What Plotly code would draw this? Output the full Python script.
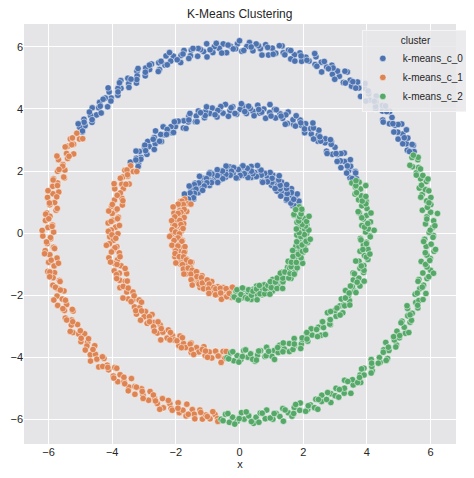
import numpy as np
import plotly.graph_objects as go

# points as (angle in degrees, distance from origin)
c0_outer = [(25.6,6.08),(26.9,5.91),(27.4,6.15),(28.8,5.98),(30.1,6.11),(31.3,5.83),(31.9,6.04),(33.2,5.94),(34.6,6.19),(35.4,6.00),(36.8,5.88),(37.9,6.07),(39.0,5.79),(39.7,6.13),(41.2,5.97),(42.5,6.09),(43.1,5.86),(44.6,6.02),(45.8,6.16),(46.4,5.92),(47.9,6.05),(49.2,5.82),(50.0,6.10),(51.3,5.99),(52.7,6.12),(53.4,5.90),(54.8,6.03),(56.1,5.85),(56.9,6.20),(58.2,5.95),(59.5,6.06),(60.3,5.89),(61.8,6.14),(62.9,6.01),(63.6,5.80),(65.0,6.08),(66.4,5.93),(67.1,6.17),(68.5,5.96),(69.8,6.04),(70.6,5.87),(71.9,6.11),(73.3,6.00),(74.0,5.84),(75.4,6.09),(76.7,5.97),(77.5,6.18),(78.9,5.91),(80.2,6.05),(81.0,5.81),(82.3,6.13),(83.7,5.98),(84.4,6.07),(85.9,5.89),(87.1,6.15),(87.8,6.02),(89.3,5.86),(90.6,6.10),(91.2,5.94),(92.7,6.03),(94.0,5.83),(94.8,6.12),(96.1,5.99),(97.5,6.06),(98.2,5.88),(99.6,6.19),(100.9,5.96),(101.7,6.04),(103.0,5.85),(104.4,6.09),(105.1,5.92),(106.5,6.14),(107.8,6.01),(108.6,5.80),(110.0,6.07),(111.3,5.95),(112.0,6.16),(113.4,5.90),(114.8,6.05),(115.5,5.84),(116.9,6.11),(118.2,5.98),(119.0,6.08),(120.3,5.87),(121.7,6.13),(122.4,6.00),(123.8,5.82),(125.1,6.10),(125.9,5.94),(127.2,6.17),(128.6,5.97),(129.3,6.03),(130.7,5.86),(132.0,6.12),(132.8,5.93),(134.1,6.06),(135.5,5.81),(136.2,6.09),(137.6,5.99),(138.9,6.14),(139.7,5.89),(141.0,6.02),(142.4,5.85),(143.1,6.11),(144.5,5.96),(145.8,6.07),(146.6,5.92),
            (26.2,5.95),(27.8,6.13),(29.3,5.88),(30.7,6.02),(32.4,6.21),(33.9,5.84),(35.1,6.09),(36.2,5.97),(38.4,5.76),(40.3,6.06),(41.8,6.15),(43.7,5.91),(45.1,6.00),(47.0,5.82),(48.6,6.11),(50.7,6.23),(52.0,5.93),(53.9,6.04),(55.5,5.87),(57.6,6.18),(58.9,5.79),(61.1,6.08),(62.2,5.99),(64.3,6.14),(65.7,5.90),(67.8,6.25),(69.2,5.96),(71.3,6.03),(72.6,5.81),(74.7,6.10),(76.1,5.92),(78.3,6.17),(79.6,5.86),(81.6,6.05),(83.0,5.78),(85.1,6.12),(86.5,6.01),(88.7,5.89),(90.0,6.20),(91.9,5.94),(93.4,6.07),(95.5,5.83),(96.8,6.16),(98.9,5.98),(100.2,5.77),(102.3,6.09),(103.8,6.13),(105.8,5.85),(107.1,6.04),(109.3,5.92),(110.7,6.22),(112.7,5.88),(114.0,6.06),(116.1,5.80),(117.6,6.11),(119.7,5.97),(121.0,6.19),(123.1,5.91),(124.5,6.02),(126.5,5.84),(127.9,6.14),(130.0,5.94),(131.4,6.24),(133.5,5.87),(134.8,6.08),(136.9,5.99),(138.3,5.82),(140.4,6.12),(141.7,5.90),(143.8,6.05),(145.2,6.17),(146.3,5.93)]
c0_middle = [(25.5,4.07),(27.2,3.90),(28.6,4.14),(30.4,3.97),(31.7,4.10),(33.5,3.82),(34.9,4.03),(36.3,3.93),(38.1,4.18),(39.4,3.99),(41.0,3.87),(42.7,4.08),(44.0,3.80),(45.6,4.12),(47.3,3.96),(48.5,4.06),(50.2,3.85),(51.9,4.01),(53.1,4.15),(54.8,3.91),(56.4,4.04),(57.7,3.83),(59.5,4.09),(60.8,3.98),(62.4,4.11),(64.1,3.89),(65.3,4.02),(67.0,3.84),(68.6,4.19),(69.9,3.94),(71.7,4.05),(73.0,3.88),(74.6,4.13),(76.3,4.00),(77.5,3.79),(79.2,4.07),(80.8,3.92),(82.1,4.16),(83.9,3.95),(85.2,4.03),(86.8,3.86),(88.5,4.10),(89.7,3.99),(91.4,3.83),(93.0,4.08),(94.3,3.96),(96.1,4.17),(97.6,3.90),(98.9,4.04),(100.7,3.81),(102.0,4.12),(103.6,3.97),(105.3,4.06),(106.5,3.88),(108.2,4.14),(109.8,4.01),(111.1,3.85),(112.9,4.09),(114.2,3.93),(115.8,4.02),(117.5,3.82),(118.7,4.11),(120.4,3.98),(122.1,4.05),(123.3,3.87),(125.0,4.18),(126.6,3.95),(127.9,4.03),(129.7,3.84),(131.0,4.08),(132.6,3.91),(134.3,4.13),(135.5,3.98),(137.2,4.06),(138.9,3.86),(140.1,4.10),(141.8,3.94),(143.4,4.04),(144.7,3.89),(146.3,4.12),
             (26.4,3.95),(28.0,4.13),(29.9,3.88),(32.6,4.02),(34.2,4.21),(37.0,3.84),(38.8,4.09),(40.2,3.97),(43.0,3.76),(44.8,4.06),(46.5,4.15),(49.3,3.91),(50.9,4.00),(52.5,3.82),(55.6,4.11),(57.0,4.23),(58.7,3.93),(61.6,4.04),(63.0,3.87),(64.8,4.18),(67.7,3.79),(69.1,4.08),(70.9,3.99),(73.8,4.14),(75.3,3.90),(77.0,4.25),(79.9,3.96),(81.4,4.03),(83.1,3.81),(86.0,4.10),(87.6,3.92),(89.2,4.17),(92.1,3.86),(93.7,4.05),(95.3,3.78),(98.2,4.12),(99.8,4.01),(101.4,3.89),(104.3,4.20),(105.9,3.94),(107.5,4.07),(110.4,3.83),(112.0,4.16),(113.6,3.98),(116.5,3.77),(118.1,4.09),(119.7,4.13),(122.6,3.85),(124.2,4.04),(125.8,3.92),(128.7,4.22),(130.3,3.88),(131.9,4.06),(134.8,3.80),(136.4,4.11),(138.0,3.97),(140.9,4.19),(142.5,3.91),(144.1,4.02),(146.0,3.84)]
c0_inner = [(25.8,2.06),(27.9,1.89),(29.6,2.13),(31.8,1.96),(33.5,2.09),(35.7,1.81),(37.4,2.02),(39.6,1.92),(41.3,2.17),(43.5,1.98),(45.2,1.86),(47.4,2.07),(49.1,1.79),(51.3,2.11),(53.0,1.95),(55.2,2.05),(56.9,1.84),(59.1,2.00),(60.8,2.14),(63.0,1.90),(64.7,2.03),(66.9,1.82),(68.6,2.08),(70.8,1.97),(72.5,2.10),(74.7,1.88),(76.4,2.01),(78.6,1.83),(80.3,2.18),(82.5,1.93),(84.2,2.04),(86.4,1.87),(88.1,2.12),(90.3,1.99),(92.0,1.78),(94.2,2.06),(95.9,1.91),(98.1,2.15),(99.8,1.94),(102.0,2.02),(103.7,1.85),(105.9,2.09),(107.6,1.98),(109.8,1.82),(111.5,2.07),(113.7,1.95),(115.4,2.16),(117.6,1.89),(119.3,2.03),(121.5,1.80),(123.2,2.11),(125.4,1.96),(127.1,2.05),(129.3,1.87),(131.0,2.13),(133.2,2.00),(134.9,1.84),(137.1,2.08),(138.8,1.92),(141.0,2.01),(142.7,1.81),(144.9,2.10),(146.4,1.97),
            (26.7,1.95),(28.8,2.13),(30.9,1.88),(32.6,2.02),(34.8,2.21),(36.5,1.84),(38.7,2.09),(40.4,1.97),(42.6,1.76),(44.3,2.06),(46.5,2.15),(48.2,1.91),(50.4,2.00),(52.1,1.82),(54.3,2.11),(56.0,2.23),(58.2,1.93),(59.9,2.04),(62.1,1.87),(63.8,2.18),(66.0,1.79),(67.7,2.08),(69.9,1.99),(71.6,2.14),(73.8,1.90),(75.5,2.25),(77.7,1.96),(79.4,2.03),(81.6,1.81),(83.3,2.10),(85.5,1.92),(87.2,2.17),(89.4,1.86),(91.1,2.05),(93.3,1.78),(95.0,2.12),(97.2,2.01),(98.9,1.89),(101.1,2.20),(102.8,1.94),(105.0,2.07),(106.7,1.83),(108.9,2.16),(110.6,1.98),(112.8,1.77),(114.5,2.09),(116.7,2.13),(118.4,1.85),(120.6,2.04),(122.3,1.92),(124.5,2.22),(126.2,1.88),(128.4,2.06),(130.1,1.80),(132.3,2.11),(134.0,1.97),(136.2,2.19),(137.9,1.91),(140.1,2.02),(141.8,1.84),(144.0,2.14),(145.7,1.94)]

c1_outer = [(147.8,6.04),(148.9,5.87),(150.3,6.12),(151.2,5.95),(152.6,6.08),(153.9,5.80),(154.7,6.01),(156.0,5.91),(157.4,6.16),(158.3,5.97),(159.7,5.85),(160.8,6.05),(162.1,5.78),(163.3,6.10),(164.2,5.94),(165.6,6.06),(166.9,5.83),(167.8,6.00),(169.2,6.14),(170.4,5.89),(171.3,6.03),(172.7,5.81),(173.9,6.09),(174.8,5.98),(176.2,6.11),(177.5,5.88),(178.3,6.02),(179.7,5.84),(180.9,6.18),(181.8,5.93),(183.2,6.05),(184.5,5.86),(185.3,6.13),(186.7,6.00),(188.0,5.79),(188.9,6.07),(190.3,5.92),(191.6,6.15),(192.4,5.95),(193.8,6.03),(195.1,5.86),(196.0,6.10),(197.4,5.99),(198.7,5.82),(199.5,6.08),(200.9,5.96),(202.2,6.17),(203.0,5.90),(204.4,6.04),(205.7,5.80),(206.6,6.12),(208.0,5.97),(209.3,6.06),(210.1,5.88),(211.5,6.14),(212.8,6.01),(213.7,5.85),(215.1,6.09),(216.4,5.93),(217.2,6.02),(218.6,5.82),(219.9,6.11),(220.8,5.98),(222.2,6.05),(223.5,5.87),(224.3,6.18),(225.7,5.95),(227.0,6.03),(227.9,5.84),(229.3,6.08),(230.6,5.91),(231.4,6.13),(232.8,6.00),(234.1,5.79),(235.0,6.06),(236.4,5.94),(237.7,6.15),(238.5,5.89),(239.9,6.04),(241.2,5.83),(242.1,6.10),(243.5,5.97),(244.8,6.07),(245.6,5.86),(247.0,6.12),(248.3,5.92),(249.2,6.05),(250.6,5.80),(251.9,6.09),(252.7,5.98),(254.1,6.13),(255.4,5.88),(256.3,6.01),(257.7,5.84),(259.0,6.11),(259.8,5.96),(261.2,6.06),(262.5,5.90),(263.4,6.02),
            (148.3,5.79),(149.7,6.08),(151.6,5.99),(153.1,6.14),(155.2,5.90),(156.6,6.25),(158.8,5.96),(160.1,6.03),(161.9,5.81),(163.7,6.10),(165.0,5.92),(167.2,6.17),(168.5,5.86),(170.8,6.05),(172.1,5.78),(174.3,6.12),(175.6,6.01),(177.9,5.89),(179.2,6.20),(181.4,5.94),(182.7,6.07),(184.9,5.83),(186.2,6.16),(188.4,5.98),(189.7,5.77),(191.9,6.09),(193.3,6.13),(195.5,5.85),(196.8,6.04),(198.1,5.92),(200.3,6.22),(201.6,5.88),(203.7,6.06),(205.1,5.80),(207.3,6.11),(208.6,5.97),(210.8,6.19),(212.2,5.91),(214.3,6.02),(215.7,5.84),(217.9,6.14),(219.2,5.94),(221.4,6.24),(222.8,5.87),(225.0,6.08),(226.3,5.99),(228.5,5.82),(229.8,6.12),(232.0,5.90),(233.4,6.05),(235.5,6.17),(236.9,5.93),(239.1,5.95),(240.4,6.13),(242.6,5.88),(244.0,6.02),(246.2,6.21),(247.5,5.84),(249.7,6.09),(251.1,5.97),(253.3,5.76),(254.6,6.06),(256.8,6.15),(258.1,5.91),(260.3,6.00),(261.7,5.82),(263.6,6.11)]
c1_middle = [(147.6,4.05),(149.3,3.88),(150.7,4.13),(152.4,3.96),(153.8,4.09),(155.5,3.81),(156.9,4.02),(158.6,3.92),(160.0,4.17),(161.7,3.98),(163.1,3.86),(164.8,4.07),(166.2,3.79),(167.9,4.11),(169.3,3.95),(171.0,4.05),(172.4,3.84),(174.1,4.00),(175.5,4.14),(177.2,3.90),(178.6,4.03),(180.3,3.82),(181.7,4.08),(183.4,3.97),(184.8,4.10),(186.5,3.88),(187.9,4.01),(189.6,3.83),(191.0,4.18),(192.7,3.93),(194.1,4.04),(195.8,3.87),(197.2,4.12),(198.9,3.99),(200.3,3.78),(202.0,4.06),(203.4,3.91),(205.1,4.15),(206.5,3.94),(208.2,4.02),(209.6,3.85),(211.3,4.09),(212.7,3.98),(214.4,3.82),(215.8,4.07),(217.5,3.95),(218.9,4.16),(220.6,3.89),(222.0,4.03),(223.7,3.80),(225.1,4.11),(226.8,3.96),(228.2,4.05),(229.9,3.87),(231.3,4.13),(233.0,4.00),(234.4,3.84),(236.1,4.08),(237.5,3.92),(239.2,4.01),(240.6,3.81),(242.3,4.10),(243.7,3.97),(245.4,4.06),(246.8,3.86),(248.5,4.14),(249.9,3.93),(251.6,4.04),(253.0,3.83),(254.7,4.09),(256.1,3.95),(257.8,4.12),(259.2,3.90),(260.9,4.02),(262.3,3.85),(263.5,4.07),
             (148.4,3.79),(150.1,4.08),(151.9,3.99),(154.7,4.14),(156.2,3.90),(158.0,4.25),(160.9,3.96),(162.4,4.03),(164.1,3.81),(167.0,4.10),(168.6,3.92),(170.2,4.17),(173.1,3.86),(174.7,4.05),(176.3,3.78),(179.2,4.12),(180.8,4.01),(182.5,3.89),(185.4,4.20),(186.9,3.94),(188.6,4.07),(191.5,3.83),(193.0,4.16),(194.7,3.98),(197.6,3.77),(199.1,4.09),(200.8,4.13),(203.7,3.85),(205.2,4.04),(206.9,3.92),(209.8,4.22),(211.4,3.88),(213.0,4.06),(215.9,3.80),(217.5,4.11),(219.2,3.97),(222.1,4.19),(223.6,3.91),(225.3,4.02),(228.2,3.84),(229.8,4.14),(231.4,3.94),(234.3,4.24),(235.9,3.87),(237.6,4.08),(240.5,3.99),(242.0,3.82),(243.7,4.12),(246.6,3.90),(248.1,4.05),(249.8,4.17),(252.7,3.93),(254.3,3.95),(255.9,4.13),(258.8,3.88),(260.4,4.02),(262.1,4.21),(263.7,3.84)]
c1_inner = [(147.5,2.04),(149.6,1.87),(151.2,2.12),(153.4,1.95),(155.0,2.08),(157.2,1.80),(158.8,2.01),(161.0,1.91),(162.6,2.16),(164.8,1.97),(166.4,1.85),(168.6,2.06),(170.2,1.78),(172.4,2.10),(174.0,1.94),(176.2,2.04),(177.8,1.83),(180.0,1.99),(181.6,2.13),(183.8,1.89),(185.4,2.02),(187.6,1.81),(189.2,2.07),(191.4,1.96),(193.0,2.09),(195.2,1.87),(196.8,2.00),(199.0,1.82),(200.6,2.17),(202.8,1.92),(204.4,2.03),(206.6,1.86),(208.2,2.11),(210.4,1.98),(212.0,1.77),(214.2,2.05),(215.8,1.90),(218.0,2.14),(219.6,1.93),(221.8,2.01),(223.4,1.84),(225.6,2.08),(227.2,1.97),(229.4,1.81),(231.0,2.06),(233.2,1.94),(234.8,2.15),(237.0,1.88),(238.6,2.02),(240.8,1.79),(242.4,2.10),(244.6,1.95),(246.2,2.04),(248.4,1.86),(250.0,2.12),(252.2,1.99),(253.8,1.83),(256.0,2.07),(257.6,1.91),(259.8,2.00),(261.4,1.82),(263.3,2.09),
            (148.6,1.79),(150.4,2.08),(152.5,1.99),(154.2,2.14),(156.3,1.90),(158.0,2.25),(160.1,1.96),(161.8,2.03),(163.9,1.81),(165.6,2.10),(167.7,1.92),(169.4,2.17),(171.5,1.86),(173.2,2.05),(175.3,1.78),(177.0,2.12),(179.1,2.01),(180.8,1.89),(182.9,2.20),(184.6,1.94),(186.7,2.07),(188.4,1.83),(190.5,2.16),(192.2,1.98),(194.3,1.77),(196.0,2.09),(198.1,2.13),(199.8,1.85),(201.9,2.04),(203.6,1.92),(205.7,2.22),(207.4,1.88),(209.5,2.06),(211.2,1.80),(213.3,2.11),(215.0,1.97),(217.1,2.19),(218.8,1.91),(220.9,2.02),(222.6,1.84),(224.7,2.14),(226.4,1.94),(228.5,2.24),(230.2,1.87),(232.3,2.08),(234.0,1.99),(236.1,1.82),(237.8,2.12),(239.9,1.90),(241.6,2.05),(243.7,2.17),(245.4,1.93),(247.5,1.95),(249.2,2.13),(251.3,1.88),(253.0,2.02),(255.1,2.21),(256.8,1.84),(258.9,2.09),(260.6,1.97),(262.7,1.76)]

c2_outer = [(-95.5,6.03),(-94.3,5.86),(-93.0,6.11),(-92.1,5.94),(-90.7,6.07),(-89.4,5.79),(-88.6,6.00),(-87.2,5.90),(-85.9,6.15),(-85.0,5.96),(-83.6,5.84),(-82.3,6.04),(-81.5,5.77),(-80.1,6.09),(-78.8,5.93),(-77.9,6.05),(-76.5,5.82),(-75.2,5.99),(-74.4,6.13),(-73.0,5.88),(-71.7,6.02),(-70.8,5.80),(-69.4,6.08),(-68.1,5.97),(-67.3,6.10),(-65.9,5.87),(-64.6,6.01),(-63.7,5.83),(-62.3,6.17),(-61.0,5.92),(-60.2,6.04),(-58.8,5.85),(-57.5,6.12),(-56.6,5.99),(-55.2,5.78),(-53.9,6.06),(-53.1,5.91),(-51.7,6.14),(-50.4,5.94),(-49.5,6.02),(-48.1,5.85),(-46.8,6.09),(-46.0,5.98),(-44.6,5.81),(-43.3,6.07),(-42.4,5.95),(-41.0,6.16),(-39.7,5.89),(-38.9,6.03),(-37.5,5.79),(-36.2,6.11),(-35.3,5.96),(-33.9,6.05),(-32.6,5.87),(-31.8,6.13),(-30.4,6.00),(-29.1,5.84),(-28.2,6.08),(-26.8,5.92),(-25.5,6.01),(-24.7,5.81),(-23.3,6.10),(-22.0,5.97),(-21.1,6.04),(-19.7,5.86),(-18.4,6.17),(-17.6,5.94),(-16.2,6.02),(-14.9,5.83),(-14.0,6.07),(-12.6,5.90),(-11.3,6.12),(-10.5,5.99),(-9.1,5.78),(-7.8,6.05),(-6.9,5.93),(-5.5,6.14),(-4.2,5.88),(-3.4,6.03),(-2.0,5.82),(-0.7,6.09),(0.2,5.96),(1.6,6.06),(2.9,5.85),(3.7,6.11),(5.1,5.91),(6.4,6.04),(7.3,5.79),(8.7,6.08),(10.0,5.97),(10.8,6.12),(12.2,5.87),(13.5,6.00),(14.4,5.83),(15.8,6.10),(17.1,5.95),(17.9,6.05),(19.3,5.89),(20.6,6.01),(21.5,5.84),(22.9,6.08),(24.2,5.94),
            (-94.9,6.07),(-93.6,5.83),(-91.4,6.16),(-90.1,5.98),(-87.9,5.77),(-86.5,6.09),(-84.3,6.13),(-83.0,5.85),(-80.8,6.04),(-79.4,5.92),(-77.2,6.22),(-75.9,5.88),(-73.7,6.06),(-72.3,5.80),(-70.1,6.11),(-68.8,5.97),(-66.6,6.19),(-65.2,5.91),(-63.0,6.02),(-61.7,5.84),(-59.5,6.14),(-58.1,5.94),(-55.9,6.24),(-54.6,5.87),(-52.4,6.08),(-51.0,5.99),(-48.8,5.82),(-47.5,6.12),(-45.3,5.90),(-43.9,6.05),(-41.7,6.17),(-40.4,5.93),(-38.2,5.95),(-36.8,6.13),(-34.6,5.88),(-33.3,6.02),(-31.1,6.21),(-29.7,5.84),(-27.5,6.09),(-26.2,5.97),(-24.0,5.76),(-22.6,6.06),(-20.4,6.15),(-19.1,5.91),(-16.9,6.00),(-15.5,5.82),(-13.3,6.11),(-12.0,6.23),(-9.8,5.93),(-8.4,6.04),(-6.2,5.87),(-4.9,6.18),(-2.7,5.79),(-1.3,6.08),(0.9,5.99),(2.2,6.14),(4.4,5.90),(5.8,6.25),(8.0,5.96),(9.3,6.03),(11.5,5.81),(12.9,6.10),(15.1,5.92),(16.4,6.17),(18.6,5.86),(20.0,6.05),(22.2,5.78),(23.5,6.12),(24.7,6.01)]
c2_middle = [(-95.6,4.04),(-94.1,3.87),(-92.5,4.12),(-91.1,3.95),(-89.4,4.08),(-88.0,3.80),(-86.3,4.01),(-84.9,3.91),(-83.2,4.16),(-81.8,3.97),(-80.1,3.85),(-78.7,4.06),(-77.0,3.78),(-75.6,4.10),(-73.9,3.94),(-72.5,4.04),(-70.8,3.83),(-69.4,3.99),(-67.7,4.13),(-66.3,3.89),(-64.6,4.02),(-63.2,3.81),(-61.5,4.07),(-60.1,3.96),(-58.4,4.09),(-57.0,3.87),(-55.3,4.00),(-53.9,3.82),(-52.2,4.17),(-50.8,3.92),(-49.1,4.03),(-47.7,3.86),(-46.0,4.11),(-44.6,3.98),(-42.9,3.77),(-41.5,4.05),(-39.8,3.90),(-38.4,4.14),(-36.7,3.93),(-35.3,4.01),(-33.6,3.84),(-32.2,4.08),(-30.5,3.97),(-29.1,3.81),(-27.4,4.06),(-26.0,3.94),(-24.3,4.15),(-22.9,3.88),(-21.2,4.02),(-19.8,3.79),(-18.1,4.10),(-16.7,3.95),(-15.0,4.04),(-13.6,3.86),(-11.9,4.12),(-10.5,3.99),(-8.8,3.83),(-7.4,4.07),(-5.7,3.91),(-4.3,4.00),(-2.6,3.80),(-1.2,4.09),(0.5,3.96),(1.9,4.05),(3.6,3.85),(5.0,4.13),(6.7,3.92),(8.1,4.03),(9.8,3.82),(11.2,4.08),(12.9,3.94),(14.3,4.11),(16.0,3.89),(17.4,4.01),(19.1,3.84),(20.5,4.06),(22.2,3.93),(23.6,4.10),(24.6,3.88),
             (-94.8,4.07),(-93.2,3.83),(-90.3,4.16),(-88.7,3.98),(-87.1,3.77),(-84.2,4.09),(-82.6,4.13),(-81.0,3.85),(-78.1,4.04),(-76.5,3.92),(-74.9,4.22),(-72.0,3.88),(-70.4,4.06),(-68.8,3.80),(-65.9,4.11),(-64.3,3.97),(-62.7,4.19),(-59.8,3.91),(-58.2,4.02),(-56.6,3.84),(-53.7,4.14),(-52.1,3.94),(-50.5,4.24),(-47.6,3.87),(-46.0,4.08),(-44.4,3.99),(-41.5,3.82),(-39.9,4.12),(-38.3,3.90),(-35.4,4.05),(-33.8,4.17),(-32.2,3.93),(-29.3,3.95),(-27.7,4.13),(-26.1,3.88),(-23.2,4.02),(-21.6,4.21),(-20.0,3.84),(-17.1,4.09),(-15.5,3.97),(-13.9,3.76),(-11.0,4.06),(-9.4,4.15),(-7.8,3.91),(-4.9,4.00),(-3.3,3.82),(-1.7,4.11),(1.2,4.23),(2.8,3.93),(4.4,4.04),(7.3,3.87),(8.9,4.18),(10.5,3.79),(13.4,4.08),(15.0,3.99),(16.6,4.14),(19.5,3.90),(21.1,4.25),(22.7,3.96),(24.8,4.03)]
c2_inner = [(-95.4,2.05),(-93.3,1.88),(-91.6,2.13),(-89.4,1.96),(-87.8,2.09),(-85.6,1.81),(-84.0,2.02),(-81.8,1.92),(-80.2,2.17),(-78.0,1.98),(-76.4,1.86),(-74.2,2.07),(-72.6,1.79),(-70.4,2.11),(-68.8,1.95),(-66.6,2.05),(-65.0,1.84),(-62.8,2.00),(-61.2,2.14),(-59.0,1.90),(-57.4,2.03),(-55.2,1.82),(-53.6,2.08),(-51.4,1.97),(-49.8,2.10),(-47.6,1.88),(-46.0,2.01),(-43.8,1.83),(-42.2,2.18),(-40.0,1.93),(-38.4,2.04),(-36.2,1.87),(-34.6,2.12),(-32.4,1.99),(-30.8,1.78),(-28.6,2.06),(-27.0,1.91),(-24.8,2.15),(-23.2,1.94),(-21.0,2.02),(-19.4,1.85),(-17.2,2.09),(-15.6,1.98),(-13.4,1.82),(-11.8,2.07),(-9.6,1.95),(-8.0,2.16),(-5.8,1.89),(-4.2,2.03),(-2.0,1.80),(-0.4,2.11),(1.8,1.96),(3.4,2.05),(5.6,1.87),(7.2,2.13),(9.4,2.00),(11.0,1.84),(13.2,2.08),(14.8,1.92),(17.0,2.01),(18.6,1.81),(20.8,2.10),(22.4,1.97),(24.3,2.06),
            (-94.6,2.07),(-92.5,1.83),(-90.8,2.16),(-88.7,1.98),(-87.0,1.77),(-84.9,2.09),(-83.2,2.13),(-81.1,1.85),(-79.4,2.04),(-77.3,1.92),(-75.6,2.22),(-73.5,1.88),(-71.8,2.06),(-69.7,1.80),(-68.0,2.11),(-65.9,1.97),(-64.2,2.19),(-62.1,1.91),(-60.4,2.02),(-58.3,1.84),(-56.6,2.14),(-54.5,1.94),(-52.8,2.24),(-50.7,1.87),(-49.0,2.08),(-46.9,1.99),(-45.2,1.82),(-43.1,2.12),(-41.4,1.90),(-39.3,2.05),(-37.6,2.17),(-35.5,1.93),(-33.8,1.95),(-31.7,2.13),(-30.0,1.88),(-27.9,2.02),(-26.2,2.21),(-24.1,1.84),(-22.4,2.09),(-20.3,1.97),(-18.6,1.76),(-16.5,2.06),(-14.8,2.15),(-12.7,1.91),(-11.0,2.00),(-8.9,1.82),(-7.2,2.11),(-5.1,2.23),(-3.4,1.93),(-1.3,2.04),(0.4,1.87),(2.5,2.18),(4.2,1.79),(6.3,2.08),(8.0,1.99),(10.1,2.14),(11.8,1.90),(13.9,2.25),(15.6,1.96),(17.7,2.03),(19.4,1.81),(21.5,2.10),(23.2,1.92)]

cluster_names = ["k-means_c_0", "k-means_c_1", "k-means_c_2"]
cluster_colors = ["#4C72B0", "#DD8452", "#55A868"]
cluster_points = [
    c0_outer + c0_middle + c0_inner,
    c1_outer + c1_middle + c1_inner,
    c2_outer + c2_middle + c2_inner,
]
tick_vals = [-6, -4, -2, 0, 2, 4, 6]
tick_text = ["\u22126", "\u22124", "\u22122", "0", "2", "4", "6"]


def to_xy(points):
    ang = np.radians([p[0] for p in points])
    rad = np.array([p[1] for p in points])
    return rad * np.cos(ang), rad * np.sin(ang)


fig = go.Figure()
for name, color, pts in zip(cluster_names, cluster_colors, cluster_points):
    x, y = to_xy(pts)
    fig.add_trace(go.Scatter(
        x=x, y=y, mode="markers", name=name,
        marker=dict(color=color, size=6.5, line=dict(color="white", width=0.5)),
    ))

# the page puts the figure 8px in from the top-left corner, so margins allow for that
font = "Liberation Sans, Arial, sans-serif"
fig.update_layout(
    width=474, height=478,
    margin=dict(l=16, r=26, t=16, b=42),
    paper_bgcolor="white",
    plot_bgcolor="#E5E5E8",
    font=dict(family=font, size=11, color="#262626"),
    title=dict(text="K-Means Clustering", x=0.489, xanchor="center",
               y=0.987, yanchor="middle", font=dict(size=12, color="#262626")),
    legend=dict(
        title=dict(text="cluster", side="top center", font=dict(size=10)),
        x=0.782, y=0.986, xanchor="left", yanchor="top",
        bgcolor="rgba(232,232,234,0.85)", bordercolor="#F4F4F4", borderwidth=1,
        font=dict(size=10), itemsizing="trace", tracegroupgap=0,
    ),
    showlegend=True,
)
fig.update_xaxes(
    range=[-6.77, 6.8], tickvals=tick_vals, ticktext=tick_text, automargin=False,
    showgrid=True, gridcolor="white", gridwidth=1, zeroline=False,
    showline=False, ticks="", title=dict(text="x", standoff=2, font=dict(size=11)),
)
fig.update_yaxes(
    range=[-6.8, 6.74], tickvals=tick_vals, ticktext=tick_text, automargin=False,
    showgrid=True, gridcolor="white", gridwidth=1, zeroline=False,
    showline=False, ticks="",
)

fig.write_html("out.html")
